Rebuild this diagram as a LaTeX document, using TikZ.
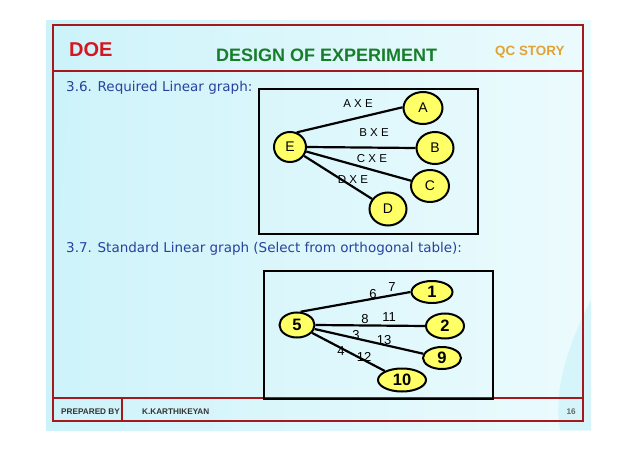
\documentclass[tikz,border=0pt]{standalone}
\usepackage{fontspec}
\setmainfont{Liberation Sans}
\newfontfamily\verdanafont{DejaVu Sans}
\usetikzlibrary{shapes.geometric}
\definecolor{bgc}{RGB}{205,243,250}
\definecolor{bgl}{RGB}{236,251,253}
\definecolor{framered}{RGB}{165,25,30}
\definecolor{doered}{RGB}{212,22,32}
\definecolor{titlegreen}{RGB}{22,125,42}
\definecolor{qcorange}{RGB}{228,162,52}
\definecolor{secblue}{RGB}{40,66,158}
\definecolor{nodey}{RGB}{255,255,102}
\definecolor{footgray}{RGB}{105,105,105}
\begin{document}
\begin{tikzpicture}[x=1pt,y=-1pt,
  gnode/.style={ellipse, draw=black, line width=2pt, fill=nodey, inner sep=0pt,
    font=\fontsize{14}{14}\selectfont},
  bnode/.style={ellipse, draw=black, line width=2pt, fill=nodey, inner sep=0pt,
    font=\fontsize{16.5}{16.5}\selectfont\bfseries},
  edge/.style={draw=black, line width=2.2pt},
  gbox/.style={draw=black, line width=2pt},
  elab/.style={inner sep=0pt, font=\fontsize{11.5}{11.5}\selectfont},
  nlab/.style={inner sep=0pt, font=\fontsize{13}{13}\selectfont},
  sectxt/.style={inner sep=0pt, anchor=base west, text=secblue,
    font=\verdanafont\fontsize{13.5}{13.5}\selectfont},
  foottxt/.style={inner sep=0pt, anchor=base west, text=black!80,
    font=\fontsize{8.2}{8.2}\selectfont\bfseries}
]
\useasboundingbox (0,0) rectangle (638,452);
\fill[white] (0,0) rectangle (638,452);
\shade[left color=bgc, right color=bgl, shading angle=90] (46,21) rectangle (591,430);
\fill[bgc, opacity=0.7] (46,21) -- (80,21) .. controls (60,120) and (55,300) .. (60,430) -- (46,430) -- cycle;
\fill[bgc, opacity=0.7] (591,300) .. controls (560,360) and (555,400) .. (560,430) -- (591,430) -- cycle;
% frame
\draw[framered, line width=1.3pt] (53,25) rectangle (583,421);
\draw[framered, line width=1.3pt] (53,71) -- (583,71);
\draw[framered, line width=1.3pt] (53,398) -- (583,398);
\draw[framered, line width=1.3pt] (122,398) -- (122,421);
% header
\node[inner sep=0pt, anchor=base west, text=doered, font=\fontsize{20}{20}\selectfont\bfseries] (doe) at (69,57) {DOE};
\node[inner sep=0pt, anchor=base west, text=titlegreen, font=\fontsize{18}{18}\selectfont\bfseries] (title) at (216,62) {DESIGN OF EXPERIMENT};
\node[inner sep=0pt, anchor=base west, text=qcorange, font=\fontsize{13.4}{13.4}\selectfont\bfseries] (qc) at (495,56) {QC STORY};
% footer
\node[foottxt] (prep) at (61,414) {PREPARED BY};
\node[foottxt] (auth) at (142,414) {K.KARTHIKEYAN};
\node[inner sep=0pt, anchor=base east, text=footgray, font=\fontsize{8.2}{8.2}\selectfont\bfseries] (pg) at (576,414) {16};
% section texts
\node[sectxt] (s36) at (66,92) {3.6. Required Linear graph:};
\node[sectxt] (s37) at (66,252) {3.7. Standard Linear graph (Select from orthogonal table):};
% box 1
\draw[gbox] (259,89) rectangle (478,234);
\node[gnode, minimum width=32pt, minimum height=30pt] (E) at (290,147) {E};
\node[gnode, minimum width=39pt, minimum height=32pt] (A) at (423,108) {A};
\node[gnode, minimum width=37pt, minimum height=32pt] (B) at (435,148) {B};
\node[gnode, minimum width=38pt, minimum height=32pt] (C) at (430,186) {C};
\node[gnode, minimum width=37pt, minimum height=33pt] (D) at (388,209) {D};
\draw[edge] (E.65) -- (A.178);
\draw[edge] (E.east) -- (B.west);
\draw[edge] (E) -- (C);
\draw[edge] (E) -- (D);
\node[elab] (lae) at (358,104) {A X E};
\node[elab] (lbe) at (374,133) {B X E};
\node[elab] (lce) at (372,159) {C X E};
\node[elab] (lde) at (353,180) {D X E};
% box 2
\draw[gbox] (264,271) rectangle (493,399);
\node[bnode, minimum width=35pt, minimum height=25pt] (n5) at (297,325) {5};
\node[bnode, minimum width=41pt, minimum height=22pt] (n1) at (432,292) {1};
\node[bnode, minimum width=38pt, minimum height=25pt] (n2) at (445,326) {2};
\node[bnode, minimum width=38pt, minimum height=22pt] (n9) at (442,358) {9};
\node[bnode, minimum width=48pt, minimum height=23pt] (n10) at (402,380) {10};
\draw[edge] (n5.75) -- (n1.west);
\draw[edge] (n5.east) -- (n2.west);
\draw[edge] (n5) -- (n9);
\draw[edge] (n5) -- (n10);
\node[nlab] (l6) at (373,294) {6};
\node[nlab] (l7) at (392,287) {7};
\node[nlab] (l8) at (365,319) {8};
\node[nlab] (l11) at (389,317) {11};
\node[nlab] (l3) at (356,335) {3};
\node[nlab] (l13) at (384,340) {13};
\node[nlab] (l4) at (341,351) {4};
\node[nlab] (l12) at (364,357) {12};
\end{tikzpicture}
\end{document}
